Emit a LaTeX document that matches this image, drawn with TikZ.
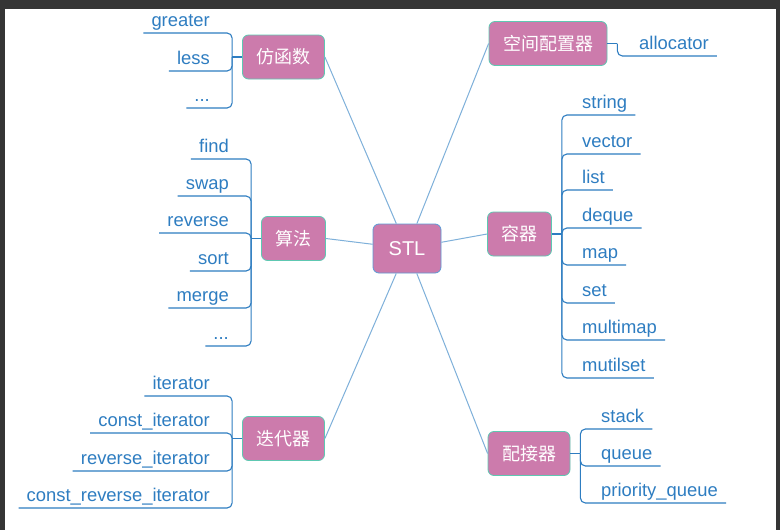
\documentclass[tikz,border=0pt]{standalone}
\usepackage{fontspec}
\setmainfont{Liberation Sans}
\newfontfamily\cjk{Noto Sans CJK SC}
\definecolor{topicpink}{RGB}{204,123,172}
\definecolor{topicedge}{RGB}{94,200,178}
\definecolor{stledge}{RGB}{91,155,213}
\definecolor{stemblue}{RGB}{126,176,218}
\definecolor{leafblue}{RGB}{46,125,193}
\definecolor{shotframe}{RGB}{53,53,53}
\tikzset{
  topic/.style={draw=topicedge, fill=topicpink, rounded corners=6pt, text=white,
    font=\cjk\fontsize{18}{20}\selectfont, minimum height=44pt, inner xsep=14pt, line width=0.8pt},
  root/.style={topic, draw=stledge, font=\fontsize{20}{22}\selectfont, minimum width=68pt, minimum height=49pt},
  leaf/.style={text=leafblue, font=\fontsize{18.4}{20}\selectfont, text depth=0pt, inner xsep=8pt, inner ysep=6pt},
  lleaf/.style={leaf, anchor=south east},
  rleaf/.style={leaf, anchor=south west},
  stem/.style={stemblue, line width=1pt},
  twig/.style={leafblue, line width=1.1pt, rounded corners=5pt},
}
\begin{document}
\begin{tikzpicture}[x=1pt,y=-1pt]
\fill[white] (0,0) rectangle (780,530);
\fill[shotframe] (0,0) rectangle (780,9);
\fill[shotframe] (0,0) rectangle (5,530);
\fill[shotframe] (776,0) rectangle (780,530);
\useasboundingbox (0,0) rectangle (780,530);

\node[root] (stl) at (407,248.5) {STL};
\node[topic] (fan) at (283.5,57) {仿函数};
\node[topic] (alloc) at (548,43.5) {空间配置器};
\node[topic] (algo) at (293.5,238.5) {算法};
\node[topic] (cont) at (519.5,234) {容器};
\node[topic] (iter) at (283.5,438.5) {迭代器};
\node[topic] (adapt) at (529,453.5) {配接器};

\draw[stem] (stl) -- (fan.east);
\draw[stem] (stl) -- (alloc.west);
\draw[stem] (stl) -- (algo.east);
\draw[stem] (stl) -- (cont.west);
\draw[stem] (stl) -- (iter.east);
\draw[stem] (stl) -- (adapt.west);

\coordinate (fanj) at ([xshift=-10pt]fan.west);
\coordinate (allocj) at ([xshift=10pt]alloc.east);
\coordinate (algoj) at ([xshift=-10pt]algo.west);
\coordinate (contj) at ([xshift=10pt]cont.east);
\coordinate (iterj) at ([xshift=-10pt]iter.west);
\coordinate (adaptj) at ([xshift=10pt]adapt.east);
\draw[twig] (fan) -- (fanj);
\draw[twig] (alloc) -- (allocj);
\draw[twig] (algo) -- (algoj);
\draw[twig] (cont) -- (contj);
\draw[twig] (iter) -- (iterj);
\draw[twig] (adapt) -- (adaptj);

\node[lleaf] (greater) at (218,33) {greater};
\node[lleaf] (less) at (218,71) {less};
\node[lleaf] (fanmore) at (218,108) {...};
\draw[twig] (fanj) |- (greater.south west);
\draw[twig] (fanj) |- (less.south west);
\draw[twig] (fanj) |- (fanmore.south west);

\node[rleaf] (allocator) at (631,56) {allocator};
\draw[twig] (allocj) |- (allocator.south east);

\node[lleaf] (find) at (237,159) {find};
\node[lleaf] (swap) at (237,196) {swap};
\node[lleaf] (reverse) at (237,233) {reverse};
\node[lleaf] (sort) at (237,271) {sort};
\node[lleaf] (merge) at (237,308) {merge};
\node[lleaf] (algomore) at (237,346) {...};
\draw[twig] (algoj) |- (find.south west);
\draw[twig] (algoj) |- (swap.south west);
\draw[twig] (algoj) |- (reverse.south west);
\draw[twig] (algoj) |- (sort.south west);
\draw[twig] (algoj) |- (merge.south west);
\draw[twig] (algoj) |- (algomore.south west);

\node[rleaf] (string) at (574,115) {string};
\node[rleaf] (vector) at (574,154) {vector};
\node[rleaf] (list) at (574,190) {list};
\node[rleaf] (deque) at (574,228) {deque};
\node[rleaf] (map) at (574,265) {map};
\node[rleaf] (set) at (574,303) {set};
\node[rleaf] (multimap) at (574,340) {multimap};
\node[rleaf] (mutilset) at (574,378) {mutilset};
\draw[twig] (contj) |- (string.south east);
\draw[twig] (contj) |- (vector.south east);
\draw[twig] (contj) |- (list.south east);
\draw[twig] (contj) |- (deque.south east);
\draw[twig] (contj) |- (map.south east);
\draw[twig] (contj) |- (set.south east);
\draw[twig] (contj) |- (multimap.south east);
\draw[twig] (contj) |- (mutilset.south east);

\node[lleaf] (iterator) at (218,396) {iterator};
\node[lleaf] (citer) at (218,433) {const\_iterator};
\node[lleaf] (riter) at (218,471) {reverse\_iterator};
\node[lleaf] (criter) at (218,508) {const\_reverse\_iterator};
\draw[twig] (iterj) |- (iterator.south west);
\draw[twig] (iterj) |- (citer.south west);
\draw[twig] (iterj) |- (riter.south west);
\draw[twig] (iterj) |- (criter.south west);

\node[rleaf] (stack) at (593,429) {stack};
\node[rleaf] (queue) at (593,466) {queue};
\node[rleaf] (pqueue) at (593,503) {priority\_queue};
\draw[twig] (adaptj) |- (stack.south east);
\draw[twig] (adaptj) |- (queue.south east);
\draw[twig] (adaptj) |- (pqueue.south east);
\end{tikzpicture}
\end{document}
